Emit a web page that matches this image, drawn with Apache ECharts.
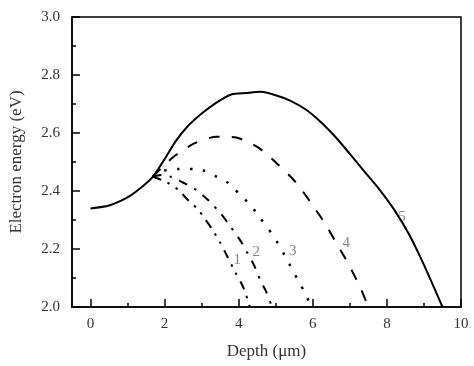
<!DOCTYPE html>
<html>
<head>
<meta charset="utf-8">
<script src="https://cdn.jsdelivr.net/npm/echarts@6/dist/echarts.min.js"></script>
<style>html,body{margin:0;padding:0;background:#fff;}#c{width:474px;height:366px;}</style>
</head>
<body>
<div id="c"></div>
<script>
// Curve data [depth (µm), energy (eV)]
const curve1 = [[1.68,2.449],[2.06,2.430],[2.38,2.403],[2.59,2.374],[2.89,2.338],[3.11,2.300],[3.27,2.271],[3.49,2.224],[3.65,2.185],[3.91,2.119],[4.07,2.082],[4.17,2.053],[4.30,2.000]];
const curve2 = [[1.68,2.449],[1.90,2.455],[2.17,2.449],[2.53,2.427],[2.86,2.403],[3.18,2.368],[3.51,2.323],[3.78,2.277],[4.05,2.228],[4.25,2.183],[4.41,2.145],[4.58,2.093],[4.74,2.053],[4.90,2.000]];
const curve3 = [[1.68,2.449],[1.99,2.470],[2.35,2.476],[2.68,2.476],[3.02,2.472],[3.36,2.452],[3.69,2.430],[4.00,2.392],[4.32,2.351],[4.58,2.306],[4.81,2.268],[5.06,2.219],[5.24,2.179],[5.43,2.133],[5.60,2.093],[5.77,2.053],[5.97,2.000]];
const curve4 = [[1.68,2.449],[2.00,2.490],[2.26,2.520],[2.80,2.564],[3.40,2.587],[3.90,2.585],[4.50,2.552],[5.03,2.495],[5.54,2.430],[5.95,2.359],[6.33,2.288],[6.64,2.219],[6.95,2.151],[7.27,2.070],[7.50,2.000]];
const curve5 = [[0,2.340],[0.5,2.350],[1.0,2.378],[1.3,2.405],[1.68,2.449],[2.0,2.510],[2.3,2.572],[2.6,2.620],[3.0,2.667],[3.4,2.705],[3.8,2.733],[4.2,2.738],[4.6,2.742],[5.0,2.730],[5.4,2.711],[5.8,2.682],[6.2,2.640],[6.6,2.588],[7.0,2.528],[7.4,2.466],[7.8,2.405],[8.2,2.335],[8.6,2.250],[9.0,2.145],[9.5,2.000]];
const curveLabels = ['1','2','3','4','5'];
const labelAnchors = [[3.96,2.162],[4.47,2.190],[5.46,2.194],[6.90,2.219],[8.41,2.309]];
const xMajorTicks = [0,2,4,6,8,10];
const xMinorTicks = [1,3,5,7,9];
const xRange = [-0.5, 10];
const yRange = [2.0, 3.0];

const FONT = '"Liberation Serif", "DejaVu Serif", serif';
const chart = echarts.init(document.getElementById('c'), null, {renderer:'canvas'});

function lineSeries(data, dash, width) {
  return {
    type:'line', data:data, xAxisIndex:0, yAxisIndex:0,
    showSymbol:false, smooth:0.25, silent:true,
    lineStyle:{color:'#000', width:width, type:dash, cap:'butt'}
  };
}

chart.setOption({
  animation:false,
  backgroundColor:'#fff',
  grid:{left:68, right:13, top:17, bottom:59, show:true, borderColor:'#000', borderWidth:1.5, containLabel:false},
  xAxis:[{
    type:'value', min:xRange[0], max:xRange[1], position:'bottom',
    name:'Depth (μm)', nameLocation:'middle', nameGap:36,
    nameTextStyle:{fontFamily:FONT, fontSize:17, color:'#333'},
    axisLine:{show:true, onZero:false, lineStyle:{color:'#000', width:1.5}},
    axisTick:{show:true, inside:true, length:8, lineStyle:{color:'#000', width:1.5}, customValues:xMajorTicks},
    axisLabel:{show:true, margin:10, fontFamily:FONT, fontSize:15, color:'#333', customValues:xMajorTicks},
    splitLine:{show:false}
  },{
    type:'value', min:xRange[0], max:xRange[1], position:'bottom',
    axisLine:{show:false, onZero:false},
    axisTick:{show:true, inside:true, length:4, lineStyle:{color:'#000', width:1.5}, customValues:xMinorTicks},
    axisLabel:{show:false},
    splitLine:{show:false}
  }],
  yAxis:{
    type:'value', min:yRange[0], max:yRange[1], interval:0.2, position:'left',
    name:'Electron energy (eV)', nameLocation:'middle', nameGap:47,
    nameTextStyle:{fontFamily:FONT, fontSize:17, color:'#333'},
    axisLine:{show:true, onZero:false, lineStyle:{color:'#000', width:1.5}},
    axisTick:{show:true, inside:true, length:8, lineStyle:{color:'#000', width:1.5}},
    minorTick:{show:true, splitNumber:2, length:4, lineStyle:{color:'#000', width:1.5}},
    axisLabel:{margin:12, fontFamily:FONT, fontSize:15, color:'#333', formatter:v=>v.toFixed(1)},
    splitLine:{show:false}, minorSplitLine:{show:false}
  },
  series:[
    lineSeries(curve5, 'solid', 2),
    lineSeries(curve4, [11,12], 2),
    lineSeries(curve3, [2.5,10.5], 2.5),
    lineSeries(curve2, [9,8,2.5,8], 2),
    lineSeries(curve1, [9,7,2.5,7,2.5,7], 2),
    {
      type:'scatter', xAxisIndex:0, yAxisIndex:0, symbolSize:0, silent:true,
      data: labelAnchors.map((p,i)=>({value:p, name:curveLabels[i]})),
      label:{show:true, position:'inside', formatter:p=>p.name, fontFamily:FONT, fontSize:15, color:'#666'}
    }
  ]
});
</script>
</body>
</html>
